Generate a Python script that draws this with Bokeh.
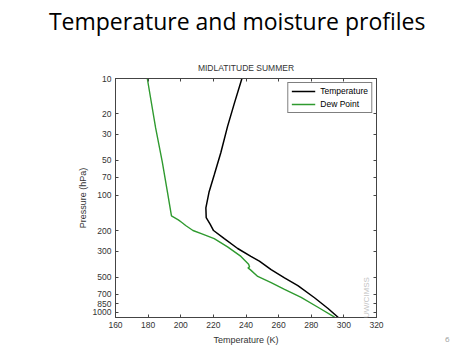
from bokeh.plotting import figure
from bokeh.layouts import row
from bokeh.models import (Range1d, LinearAxis, LogAxis, FixedTicker, NumeralTickFormatter,
                          CustomJSTickFormatter, Label, Legend, LegendItem, Div)
from bokeh.embed import file_html
from bokeh.resources import INLINE

# ---- data ----
temp_p = [10, 16.4, 25.7, 43, 67, 93, 128, 155, 176, 200, 235, 285, 333, 366, 433, 509, 593, 752, 930, 1110]
temp_t = [237.5, 232.8, 228.7, 224.6, 220.5, 217.4, 215.4, 215.6, 218.0, 220.1, 226.7, 234.9, 243.0, 248.2,
          255.4, 263.6, 271.8, 282.0, 290.3, 296.6]
dew_p = [10, 26.5, 52, 93, 150, 162, 170, 181, 200, 214, 235, 276, 333, 388, 410, 418, 432, 494, 558, 637,
         748, 907, 1100]
dew_t = [179.5, 184.6, 188.7, 191.8, 194.3, 198.5, 200.5, 203.0, 207.5, 213.0, 220.5, 228.7, 236.9, 241.6,
         242.2, 241.2, 242.6, 247.2, 255.4, 263.6, 273.8, 284.1, 294.3]
x_ticks = [160, 180, 200, 220, 240, 260, 280, 300, 320]
y_ticks = [10, 20, 30, 50, 70, 100, 200, 300, 500, 700, 850, 1000]
slide_title = "Temperature and moisture profiles"
chart_title = "MIDLATITUDE SUMMER"
page_number = "6"

FONT = "Liberation Sans"
AX = "#444444"
TXT = "#333333"

p = figure(width=430, height=347, output_backend="svg", toolbar_location=None,
           y_axis_type="log", x_range=Range1d(160, 320), y_range=Range1d(1110, 10),
           min_border_left=115, min_border_right=54, min_border_top=78, min_border_bottom=24)
p.title.visible = False
p.xgrid.visible = False
p.ygrid.visible = False
p.outline_line_color = AX
p.background_fill_color = "white"

def style(ax, labels=True):
    ax.axis_line_color = AX
    ax.major_tick_line_color = AX
    ax.major_tick_in = 3
    ax.major_tick_out = 0
    ax.minor_tick_line_color = None
    ax.major_label_text_font = FONT
    ax.major_label_text_font_size = "8.5px"
    ax.major_label_text_color = TXT
    ax.major_label_standoff = 4
    ax.axis_label_text_font = FONT
    ax.axis_label_text_font_size = "9px"
    ax.axis_label_text_font_style = "normal"
    ax.axis_label_text_color = TXT
    if not labels:
        ax.formatter = CustomJSTickFormatter(code="return ''")
        ax.major_label_standoff = 0

p.xaxis.ticker = FixedTicker(ticks=x_ticks)
p.yaxis.ticker = FixedTicker(ticks=y_ticks)
p.yaxis.formatter = NumeralTickFormatter(format="0")
style(p.xaxis[0])
style(p.yaxis[0])
p.xaxis.axis_label = "Temperature (K)"
p.xaxis.axis_label_standoff = 4
p.yaxis.axis_label = "Pressure (hPa)"
p.yaxis.axis_label_standoff = 2

# top axis: inward ticks, chart title as its label
top = LinearAxis(ticker=FixedTicker(ticks=x_ticks))
style(top, labels=False)
top.axis_label = chart_title
top.axis_label_text_font_size = "8.5px"
top.axis_label_standoff = 6
p.add_layout(top, "above")

# outer top axis without line/ticks: carries the slide title, centred at its tick
title_axis = LinearAxis(ticker=FixedTicker(ticks=[234.6]),
                        formatter=CustomJSTickFormatter(args=dict(t=slide_title), code="return t"))
title_axis.axis_line_color = None
title_axis.major_tick_line_color = None
title_axis.minor_tick_line_color = None
title_axis.major_label_standoff = 17
title_axis.major_label_text_font = "Open Sans"
title_axis.major_label_text_font_size = "23px"
title_axis.major_label_text_color = "black"
p.add_layout(title_axis, "above")

right = LogAxis(ticker=FixedTicker(ticks=y_ticks))
style(right, labels=False)
p.add_layout(right, "right")

r1 = p.line(temp_t, temp_p, line_color="black", line_width=1.5)
r2 = p.line(dew_t, dew_p, line_color="#2f9a2f", line_width=1.4)

legend = Legend(items=[LegendItem(label="Temperature", renderers=[r1]),
                       LegendItem(label="Dew Point", renderers=[r2])],
                location="top_right", margin=4, padding=3, spacing=3,
                glyph_width=24, glyph_height=10, label_height=10, label_standoff=5,
                label_text_font=FONT, label_text_font_size="8.5px", label_text_color="black",
                border_line_color="black", border_line_width=1, background_fill_color="white")
p.add_layout(legend, "center")

p.add_layout(Label(x=313.8, y=750, text="UW/CIMSS", text_font=FONT, text_font_size="8px",
                   text_color="#c4c4c4", text_align="center", text_baseline="middle", angle=1.5708))

num = Div(width=36, height=347,
          text=('<div style="position:absolute;left:10px;top:329px;color:#9a9a9a;'
                'font-family:\'Open Sans\';font-size:8px;line-height:10px;">%s</div>' % page_number))

layout = row(p, num)
open("out.html", "w").write(file_html(layout, INLINE))
